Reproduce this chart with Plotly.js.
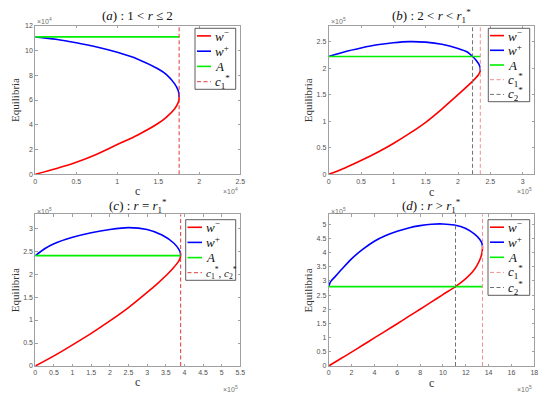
<!DOCTYPE html>
<html><head><meta charset="utf-8">
<script src="https://cdn.plot.ly/plotly-3.0.1.min.js"></script>
<style>html,body{margin:0;padding:0;background:#fff}</style>
</head><body><div id="chart" style="width:550px;height:394px"></div>
<script>
// ---------- Panel (a): 1 < r <= 2  (c in 1e4, w in 1e4) ----------
const scaleA = 1e4;
const cA_minus = [0, 0.25, 0.5, 0.75, 1.0, 1.25, 1.5, 1.6, 1.7, 1.74, 1.751, 1.754];
const wA_minus = [0, 0.45, 0.97, 1.62, 2.4, 3.18, 4.12, 4.62, 5.3, 5.75, 6.0, 6.25];
const cA_plus  = [0, 0.25, 0.5, 0.75, 1.0, 1.25, 1.5, 1.6, 1.7, 1.74, 1.751, 1.754];
const wA_plus  = [11.1, 10.9, 10.62, 10.28, 9.85, 9.3, 8.5, 8.05, 7.3, 6.8, 6.5, 6.25];
const A_a = 11.1, c1_a = 1.754;
const xTicksA = ['0','0.5','1','1.5','2','2.5'];
const yTicksA = ['0','2','4','6','8','10','12'];

// ---------- Panel (b): 2 < r < r1*  (1e5) ----------
const scaleB = 1e5;
const cB_minus = [0, 0.25, 0.5, 0.75, 1.0, 1.25, 1.5, 1.75, 2.0, 2.15, 2.25, 2.3, 2.33, 2.345];
const wB_minus = [0, 0.12, 0.26, 0.41, 0.58, 0.77, 0.98, 1.23, 1.5, 1.665, 1.785, 1.85, 1.9, 1.95];
const cB_plus  = [0, 0.25, 0.5, 0.75, 1.0, 1.25, 1.5, 1.75, 2.0, 2.15, 2.225, 2.28, 2.32, 2.34, 2.345];
const wB_plus  = [2.22, 2.31, 2.38, 2.44, 2.48, 2.5, 2.49, 2.45, 2.37, 2.3, 2.22, 2.15, 2.08, 2.02, 1.95];
const A_b = 2.22, c1_b = 2.345, c2_b = 2.225;
const xTicksB = ['0','0.5','1','1.5','2','2.5','3'];
const yTicksB = ['0','0.5','1','1.5','2','2.5'];

// ---------- Panel (c): r = r1*  (1e5) ----------
const scaleC = 1e5;
const cC_minus = [0, 0.5, 1.0, 1.5, 2.0, 2.5, 3.0, 3.3, 3.55, 3.72, 3.83, 3.88, 3.9];
const wC_minus = [0, 0.22, 0.46, 0.71, 0.98, 1.27, 1.6, 1.81, 2.0, 2.15, 2.26, 2.33, 2.4];
const cC_plus  = [0, 0.25, 0.5, 1.0, 1.5, 2.0, 2.5, 3.0, 3.4, 3.72, 3.864, 3.891, 3.9];
const wC_plus  = [2.4, 2.55, 2.66, 2.8, 2.9, 2.97, 3.01, 2.97, 2.85, 2.67, 2.52, 2.46, 2.4];
const A_c = 2.4, c12_c = 3.9;
const xTicksC = ['0','0.5','1','1.5','2','2.5','3','3.5','4','4.5','5','5.5'];
const yTicksC = ['0','0.5','1','1.5','2','2.5','3'];

// ---------- Panel (d): r > r1*  (1e5) ----------
const scaleD = 1e5;
const cD_minus = [0, 1, 2, 3, 4, 5, 6, 7, 8, 9, 10, 11.1, 12, 12.6, 13.0, 13.3, 13.43, 13.47];
const wD_minus = [0, 0.245, 0.49, 0.74, 0.99, 1.24, 1.49, 1.75, 2.0, 2.26, 2.52, 2.8, 3.08, 3.32, 3.56, 3.82, 4.02, 4.2];
const cD_plus  = [0, 0.15, 0.6, 1.2, 2, 3, 4, 5, 6, 7, 8, 9, 10, 11, 12, 12.77, 13.2, 13.41, 13.47];
const wD_plus  = [2.8, 2.97, 3.17, 3.44, 3.78, 4.12, 4.4, 4.6, 4.75, 4.87, 4.95, 5.0, 5.01, 4.97, 4.85, 4.65, 4.48, 4.33, 4.2];
const A_d = 2.8, c1_d = 13.47, c2_d = 11.1;
const xTicksD = ['0','2','4','6','8','10','12','14','16','18'];
const yTicksD = ['0','0.5','1','1.5','2','2.5','3','3.5','4','4.5','5'];

// ---------- styling ----------
const RED = '#ff0000', BLUE = '#0000ff', GREEN = '#00ee00', GREY = '#707070';
const RED_DASH = '#e03a3a', RED_DASH_LIGHT = '#ee8f8f';
const W = 550, H = 394;
const PX = x => x / W, PY = y => 1 - y / H;
const LW = 1.6;
const serif = 'Liberation Serif, Times New Roman, serif';
const sans = 'Liberation Sans, Arial, sans-serif';

const traces = [];
const layout = {
  width: W, height: H, margin: {l: 0, r: 0, t: 0, b: 0},
  paper_bgcolor: '#fff', plot_bgcolor: '#fff', showlegend: false,
  shapes: [], annotations: []
};

function scaleArr(a, s) { return a.map(v => v * s); }

function addPanel(p) {
  const xa = p.n === 1 ? 'x' : 'x' + p.n, ya = p.n === 1 ? 'y' : 'y' + p.n;
  const xk = p.n === 1 ? 'xaxis' : 'xaxis' + p.n, yk = p.n === 1 ? 'yaxis' : 'yaxis' + p.n;
  const s = p.scale;
  const base = {
    showline: true, mirror: 'ticks', linecolor: '#a0a0a0', linewidth: 1,
    ticks: 'inside', ticklen: 2.5, tickcolor: '#a0a0a0', tickwidth: 1,
    showgrid: false, zeroline: false, fixedrange: true, tickmode: 'array',
    tickfont: {family: sans, size: 7, color: '#505050'}
  };
  layout[xk] = Object.assign({}, base, {
    domain: p.xdom, range: [0, p.xmax * s], anchor: ya,
    tickvals: p.xticks.map(t => parseFloat(t) * s), ticktext: p.xticks
  });
  layout[yk] = Object.assign({}, base, {
    domain: p.ydom, range: [0, p.ymax * s], anchor: xa,
    tickvals: p.yticks.map(t => parseFloat(t) * s), ticktext: p.yticks
  });
  traces.push({x: scaleArr(p.cm, s), y: scaleArr(p.wm, s), xaxis: xa, yaxis: ya, mode: 'lines',
    line: {color: RED, width: LW, shape: 'spline', smoothing: 0.7}, hoverinfo: 'skip'});
  traces.push({x: scaleArr(p.cp, s), y: scaleArr(p.wp, s), xaxis: xa, yaxis: ya, mode: 'lines',
    line: {color: BLUE, width: LW, shape: 'spline', smoothing: 0.7}, hoverinfo: 'skip'});
  traces.push({x: [0, p.Aend * s], y: [p.A * s, p.A * s], xaxis: xa, yaxis: ya, mode: 'lines',
    line: {color: GREEN, width: LW}, hoverinfo: 'skip'});
  p.vlines.forEach(v => {
    traces.push({x: [v.c * s, v.c * s], y: [0, p.ymax * s], xaxis: xa, yaxis: ya, mode: 'lines',
      line: {color: v.color, width: 1, dash: '4px,2.5px'}, hoverinfo: 'skip'});
  });
  layout.annotations.push({text: p.title, xref: xa + ' domain', x: 0.5, yref: 'paper', y: PY(p.titleY),
    xanchor: 'center', yanchor: 'middle', showarrow: false, font: {family: serif, size: 13, color: '#111'}});
  layout.annotations.push({text: 'c', xref: xa + ' domain', x: 0.5, yref: 'paper', y: PY(p.cY),
    xanchor: 'center', yanchor: 'middle', showarrow: false, font: {family: serif, size: 12, color: '#333'}});
  layout.annotations.push({text: 'Equilibria', xref: 'paper', x: PX(p.eqX), yref: ya + ' domain', y: 0.5,
    xanchor: 'center', yanchor: 'middle', textangle: -90, showarrow: false, font: {family: serif, size: 11, color: '#333'}});
  const ex = '×10<sup>' + p.exp + '</sup>';
  layout.annotations.push({text: ex, xref: xa + ' domain', x: 0, yref: 'paper', y: PY(p.expTopY),
    xanchor: 'left', yanchor: 'middle', showarrow: false, font: {family: sans, size: 7, color: '#707070'}});
  layout.annotations.push({text: ex, xref: xa + ' domain', x: 1, yref: 'paper', y: PY(p.expBotY),
    xanchor: 'right', yanchor: 'middle', showarrow: false, font: {family: sans, size: 7, color: '#707070'}});
  const L = p.legend;
  layout.shapes.push({type: 'rect', xref: 'paper', yref: 'paper', x0: PX(L.box[0]), x1: PX(L.box[2]),
    y0: PY(L.box[3]), y1: PY(L.box[1]), fillcolor: '#fff', line: {color: '#333', width: 0.8}, layer: 'above'});
  L.items.forEach((it, i) => {
    const yy = L.rows[i];
    layout.shapes.push({type: 'line', xref: 'paper', yref: 'paper', x0: PX(L.sx[0]), x1: PX(L.sx[1]),
      y0: PY(yy), y1: PY(yy), line: {color: it.color, width: it.dash ? 1 : LW, dash: it.dash ? '4px,2.5px' : 'solid'}, layer: 'above'});
    layout.annotations.push({text: it.label, xref: 'paper', x: PX(L.tx), yref: 'paper', y: PY(yy),
      xanchor: 'left', yanchor: 'middle', showarrow: false, font: {family: serif, size: it.size || 13, color: '#111'}});
  });
}

const wm = '<i>w</i><sup>−</sup>', wp = '<i>w</i><sup>+</sup>', Al = '<i>A</i>';
const c1l = '<i>c</i><sub>1</sub><sup>*</sup>', c2l = '<i>c</i><sub>2</sub><sup>*</sup>';

const xdomL = [35.3 / W, 240.3 / W], xdomR = [328.7 / W, 534.3 / W];
const ydomT = [1 - 174.3 / H, 1 - 25.7 / H], ydomB = [1 - 366 / H, 1 - 214.3 / H];

addPanel({n: 1, scale: scaleA, xdom: xdomL, ydom: ydomT, xmax: 2.5, ymax: 12,
  xticks: xTicksA, yticks: yTicksA, cm: cA_minus, wm: wA_minus, cp: cA_plus, wp: wA_plus,
  A: A_a, Aend: c1_a, vlines: [{c: c1_a, color: RED_DASH}],
  title: '(<i>a</i>) : 1 &lt; <i>r</i> ≤ 2', titleY: 15, cY: 191, eqX: 15, exp: 4, expTopY: 21, expBotY: 191,
  legend: {box: [195, 28.3, 235.7, 89.3], sx: [197, 211], tx: 212.5, rows: [35.9, 51.2, 66.4, 81.7],
    items: [{label: wm, color: RED}, {label: wp, color: BLUE}, {label: Al, color: GREEN}, {label: c1l, color: RED_DASH, dash: 1}]}});

addPanel({n: 2, scale: scaleB, xdom: xdomR, ydom: ydomT, xmax: 3.18, ymax: 2.8,
  xticks: xTicksB, yticks: yTicksB, cm: cB_minus, wm: wB_minus, cp: cB_plus, wp: wB_plus,
  A: A_b, Aend: c1_b, vlines: [{c: c2_b, color: GREY}, {c: c1_b, color: RED_DASH_LIGHT}],
  title: '(<i>b</i>) : 2 &lt; <i>r</i> &lt; <i>r</i><sub>1</sub><sup>*</sup>', titleY: 16, cY: 192, eqX: 308.3, exp: 5, expTopY: 21, expBotY: 191,
  legend: {box: [488.3, 28.3, 529.7, 101.7], sx: [490, 504], tx: 505.5, rows: [35.6, 50.3, 65, 79.7, 94.4],
    items: [{label: wm, color: RED}, {label: wp, color: BLUE}, {label: Al, color: GREEN},
      {label: c1l, color: RED_DASH_LIGHT, dash: 1}, {label: c2l, color: GREY, dash: 1}]}});

addPanel({n: 3, scale: scaleC, xdom: xdomL, ydom: ydomB, xmax: 5.5, ymax: 3.3,
  xticks: xTicksC, yticks: yTicksC, cm: cC_minus, wm: wC_minus, cp: cC_plus, wp: wC_plus,
  A: A_c, Aend: c12_c, vlines: [{c: c12_c, color: RED_DASH}],
  title: '(<i>c</i>) : <i>r</i> = <i>r</i><sub>1</sub><sup>*</sup>', titleY: 206, cY: 382, eqX: 15, exp: 5, expTopY: 210.5, expBotY: 389,
  legend: {box: [185.7, 219.7, 235.7, 280.3], sx: [187.5, 202], tx: 203.5, rows: [227.3, 242.4, 257.6, 272.7],
    items: [{label: wm, color: RED}, {label: wp, color: BLUE}, {label: Al, color: GREEN},
      {label: c1l + ', ' + c2l, color: RED_DASH, dash: 1, size: 11}]}});

addPanel({n: 4, scale: scaleD, xdom: xdomR, ydom: ydomB, xmax: 18, ymax: 5.35,
  xticks: xTicksD, yticks: yTicksD, cm: cD_minus, wm: wD_minus, cp: cD_plus, wp: wD_plus,
  A: A_d, Aend: c1_d, vlines: [{c: c2_d, color: GREY}, {c: c1_d, color: RED_DASH_LIGHT}],
  title: '(<i>d</i>) : <i>r</i> &gt; <i>r</i><sub>1</sub><sup>*</sup>', titleY: 206, cY: 383, eqX: 308.3, exp: 5, expTopY: 210.5, expBotY: 389,
  legend: {box: [488, 219.7, 529.7, 295.3], sx: [490, 504], tx: 505.5, rows: [227.2, 242.2, 257.3, 272.4, 287.5],
    items: [{label: wm, color: RED}, {label: wp, color: BLUE}, {label: Al, color: GREEN},
      {label: c1l, color: RED_DASH_LIGHT, dash: 1}, {label: c2l, color: GREY, dash: 1}]}});

Plotly.newPlot('chart', traces, layout, {displayModeBar: false});
</script></body></html>
